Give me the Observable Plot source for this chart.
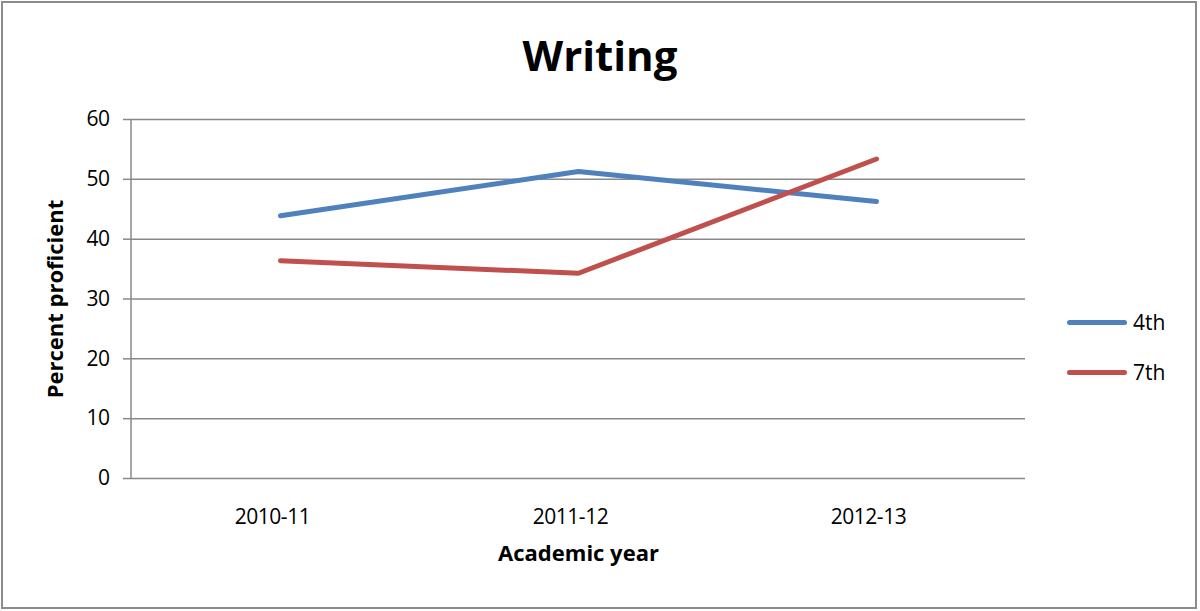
<!DOCTYPE html>
<html>
<head>
<meta charset="utf-8">
<script src="https://cdn.jsdelivr.net/npm/d3@7"></script>
<script src="https://cdn.jsdelivr.net/npm/@observablehq/plot@0.6"></script>
<style>
  html, body { margin: 0; padding: 0; background: #fff; }
  #wrap { position: relative; width: 1200px; height: 611px; font-family: "Open Sans", sans-serif; overflow: hidden; }
  #border { position: absolute; left: 1px; top: 1px; width: 1196px; height: 608px; box-sizing: border-box; border: 2px solid #8c8c8c; pointer-events: none; }
  #title { position: absolute; left: 0; width: 1200px; top: 30px; text-align: center; font-size: 42px; font-weight: bold; color: #000; line-height: 1.2; }
  #chart { position: absolute; left: 0; top: 0; }
  #legend { position: absolute; left: 1067px; top: 297px; font-size: 21px; color: #000; }
  .li { display: flex; align-items: center; height: 50px; }
  .sw { width: 60px; height: 5px; border-radius: 3px; margin-right: 6px; }
  #chart svg [aria-label="y-axis tick label"] text, #chart svg [aria-label="x-axis tick label"] text { font-size: 21px; letter-spacing: -0.5px; }
</style>
</head>
<body>
<div id="wrap">
  <div id="title">Writing</div>
  <div id="chart"></div>
  <div id="legend"></div>
  <div id="border"></div>
</div>
<script>
const years = ["2010-11", "2011-12", "2012-13"];
const grade4 = [43.9, 51.3, 46.3];
const grade7 = [36.4, 34.3, 53.4];
const seriesNames = ["4th", "7th"];
const seriesColors = ["#4F81BD", "#C0504D"];
const yTicks = [0, 10, 20, 30, 40, 50, 60];

const data = [
  ...years.map((y, i) => ({year: y, value: grade4[i], series: seriesNames[0]})),
  ...years.map((y, i) => ({year: y, value: grade7[i], series: seriesNames[1]}))
];

const gridColor = "#888888";

const leftAxisLine = (index, scales, values, dimensions) => {
  const ns = "http://www.w3.org/2000/svg";
  const l = document.createElementNS(ns, "line");
  const x = dimensions.marginLeft;
  l.setAttribute("x1", x); l.setAttribute("x2", x);
  l.setAttribute("y1", scales.y(60)); l.setAttribute("y2", scales.y(0));
  l.setAttribute("stroke", gridColor);
  l.setAttribute("stroke-width", 1.5);
  return l;
};

const chart = Plot.plot({
  width: 1200,
  height: 611,
  marginLeft: 131,
  marginRight: 175,
  marginTop: 119,
  marginBottom: 133,
  style: {fontFamily: "'Open Sans', sans-serif", fontSize: "20px", color: "#000", background: "transparent"},
  x: {type: "point", domain: years, padding: 0.5},
  y: {domain: [0, 60]},
  color: {domain: seriesNames, range: seriesColors},
  marks: [
    Plot.ruleY(yTicks, {stroke: gridColor, strokeWidth: 1.5, strokeOpacity: 1}),
    leftAxisLine,
    Plot.axisY({ticks: yTicks, tickSize: 8, tickPadding: 14, stroke: gridColor, strokeWidth: 1.5, strokeOpacity: 1,
      fontSize: 21, label: "Percent proficient", labelAnchor: "center", labelOffset: 84,
      labelArrow: "none"}),
    Plot.axisX({tickSize: 0, tickPadding: 31, fontSize: 21, dx: -8, label: null}),
    Plot.text(["Academic year"], {frameAnchor: "bottom", dy: 82, fontWeight: "bold", fontSize: 22, fill: "#000"}),
    Plot.line(data, {x: "year", y: "value", z: "series", stroke: "series", strokeWidth: 5, strokeLinecap: "round", strokeLinejoin: "round"})
  ]
});

// bold, larger y-axis label
chart.querySelectorAll("[aria-label='y-axis label']").forEach(g => {
  g.setAttribute("font-weight", "bold");
  g.setAttribute("font-size", "22");
});
chart.querySelectorAll("[aria-label='y-axis label'] text").forEach(t => {
  t.setAttribute("font-weight", "bold");
  t.setAttribute("font-size", "22");
});
document.getElementById("chart").appendChild(chart);

const legend = document.getElementById("legend");
seriesNames.forEach((n, i) => {
  const d = document.createElement("div");
  d.className = "li";
  d.innerHTML = `<div class="sw" style="background:${seriesColors[i]}"></div><span>${n}</span>`;
  legend.appendChild(d);
});
</script>
</body>
</html>
